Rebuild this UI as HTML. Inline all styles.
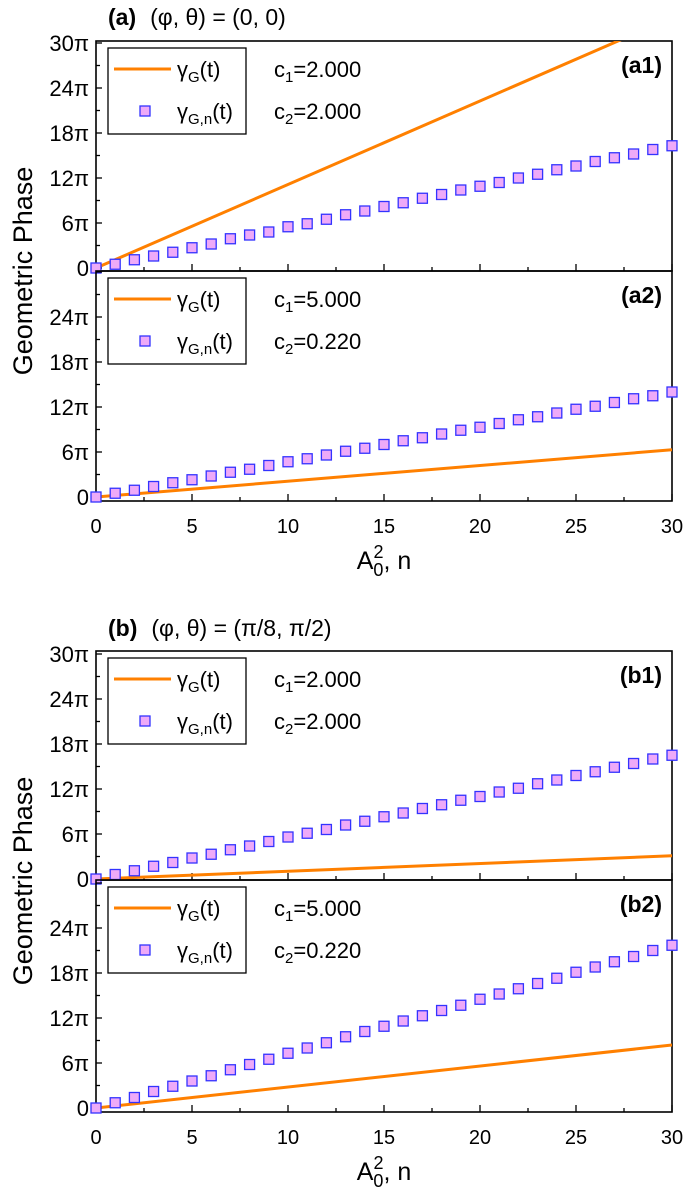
<!DOCTYPE html>
<html><head><meta charset="utf-8"><style>
html,body{margin:0;padding:0;background:#fff}
svg{display:block;font-family:"Liberation Sans",Arial,sans-serif}
</style></head><body>
<svg id="chart" width="685" height="1190" viewBox="0 0 685 1190" xmlns="http://www.w3.org/2000/svg"></svg>
<script>
// n values
const nValues = [0,1,2,3,4,5,6,7,8,9,10,11,12,13,14,15,16,17,18,19,20,21,22,23,24,25,26,27,28,29,30];
// gamma_G line endpoints (in units of pi) at n=0 and n=30
const a1Line = [0, 33.4];
const a2Line = [0, 6.3];
const b1Line = [0, 3.1];
const b2Line = [0, 8.4];
// gamma_G,n squares (units of pi)
const a1Squares = [0,0.5,1.1,1.6,2.1,2.7,3.2,3.9,4.4,4.8,5.5,5.9,6.5,7.1,7.6,8.2,8.7,9.3,9.8,10.4,10.9,11.4,12.0,12.5,13.1,13.6,14.2,14.7,15.2,15.8,16.3];
const a2Squares = [0,0.5,0.9,1.4,1.9,2.3,2.8,3.3,3.7,4.2,4.7,5.1,5.6,6.1,6.5,7.0,7.5,7.9,8.4,8.9,9.3,9.8,10.3,10.7,11.2,11.7,12.1,12.6,13.1,13.5,14.0];
const b1Squares = [0,0.6,1.1,1.7,2.2,2.8,3.3,3.9,4.4,5.0,5.6,6.1,6.6,7.2,7.7,8.3,8.8,9.4,9.9,10.5,11.0,11.6,12.1,12.7,13.2,13.8,14.3,14.9,15.4,16.0,16.5];
const b2Squares = [0,0.7,1.4,2.2,2.9,3.6,4.3,5.1,5.8,6.5,7.3,8.0,8.7,9.5,10.2,10.9,11.6,12.3,13.0,13.7,14.5,15.2,15.9,16.6,17.3,18.1,18.8,19.5,20.2,21.0,21.7];
const xTicks = [0,5,10,15,20,25,30];
const yTickLabels = ["0","6π","12π","18π","24π","30π"];
const yTickValues = [0,6,12,18,24,30];

const svg = document.getElementById('chart');
const NS = 'http://www.w3.org/2000/svg';
function mk(tag, attrs, parent){const e=document.createElementNS(NS,tag);for(const k in attrs)e.setAttribute(k,attrs[k]);(parent||svg).appendChild(e);return e;}
const X0=96, X1=672;
const xs = v => X0 + (X1-X0)*v/30;

function panel(top, bottom, zeroY, name, label, line, sq, c1, c2, showTop){
  const g = mk('g',{});
  
  
  const ys = v => zeroY - v*7.5;
  const fr = mk('rect',{x:X0,y:top,width:X1-X0,height:bottom-top,fill:'none',stroke:'#000','stroke-width':1.6},g);
  
  
  for(let v=0; v<=30; v+=2.5){
    const major = v%5===0;
    mk('line',{x1:xs(v),x2:xs(v),y1:bottom,y2:bottom-(major?7:4),stroke:'#000','stroke-width':1.3},g);
  }
  for(let v=0; v<=30; v+=3){
    if(ys(v)<top) continue;
    const major = v%6===0;
    mk('line',{x1:X0,x2:X0+(major?6:4),y1:ys(v),y2:ys(v),stroke:'#000','stroke-width':1.3},g);
  }
  yTickValues.forEach((v,i)=>{
    if(!showTop && v===30) return;
    const t = mk('text',{x:89,y:ys(v)+8,'text-anchor':'end','font-size':22,fill:'#000'},g);
    t.textContent = yTickLabels[i];
    
    
  });
  const clip = mk('clipPath',{id:'clip-'+name},g);
  mk('rect',{x:X0,y:top,width:X1-X0,height:bottom-top},clip);
  const ln = mk('line',{x1:xs(0),y1:ys(line[0]),x2:xs(30),y2:ys(line[1]),stroke:'#ff8000','stroke-width':3},g);
  
  
  ln.setAttribute('clip-path','url(#clip-'+name+')');
  nValues.forEach((n,i)=>{
    const r = mk('rect',{x:xs(n)-5,y:ys(sq[i])-5,width:10,height:10,fill:'#eeaaf8',stroke:'#3333ff','stroke-width':1.3},g);
    
    
  });
  const lg = mk('g',{},g);
  
  
  const L = top+7;
  mk('rect',{x:108,y:L,width:138,height:86,fill:'#fff',stroke:'#000','stroke-width':1.3},lg);
  mk('line',{x1:114,x2:171,y1:L+21,y2:L+21,stroke:'#ff8000','stroke-width':3},lg);
  const t1 = mk('text',{x:177,y:L+29,'font-size':22},lg);
  t1.innerHTML = 'γ<tspan font-size="15" dy="5">G</tspan><tspan dy="-5">(t)</tspan>';
  mk('rect',{x:140,y:L+58,width:10,height:10,fill:'#eeaaf8',stroke:'#3333ff','stroke-width':1.3},lg);
  const t2 = mk('text',{x:177,y:L+71,'font-size':22},lg);
  t2.innerHTML = 'γ<tspan font-size="15" dy="5">G,n</tspan><tspan dy="-5">(t)</tspan>';
  const c1t = mk('text',{x:274,y:L+29,'font-size':22},g);
  c1t.innerHTML = 'c<tspan font-size="15" dy="5">1</tspan><tspan dy="-5">='+c1+'</tspan>';
  
  
  const c2t = mk('text',{x:274,y:L+71,'font-size':22},g);
  c2t.innerHTML = 'c<tspan font-size="15" dy="5">2</tspan><tspan dy="-5">='+c2+'</tspan>';
  
  
  const pl = mk('text',{x:662,y:top+32,'text-anchor':'end','font-size':23,'font-weight':'bold'},g);
  pl.textContent = label;
  
  
}

function xAxis(y, titleY){
  xTicks.forEach(v=>{
    const t = mk('text',{x:xs(v),y:y,'text-anchor':'middle','font-size':20});
    t.textContent = v;
    
    
  });
  const t = mk('text',{x:384,y:titleY,'text-anchor':'middle','font-size':25});
  t.innerHTML = 'A<tspan font-size="18" dy="7">0</tspan><tspan font-size="18" dx="-10" dy="-18">2</tspan><tspan dy="11">, n</tspan>';
  
  
}
function yTitle(cy){
  const t = mk('text',{x:0,y:0,'text-anchor':'middle','font-size':27,transform:'translate(32,'+cy+') rotate(-90)'});
  t.textContent = 'Geometric Phase';
  
  
}
function title(y, tag, rest){
  const t = mk('text',{x:108,y:y,'font-size':23});
  t.innerHTML = '<tspan font-weight="bold">'+tag+'</tspan><tspan dx="14">'+rest+'</tspan>';
  
  
}

title(25,'(a)','(φ, θ) = (0, 0)');
panel(41,271,268,'a1','(a1)',a1Line,a1Squares,'2.000','2.000',true);
panel(271,501,497,'a2','(a2)',a2Line,a2Squares,'5.000','0.220',false);
xAxis(533,569);
yTitle(271);

title(636,'(b)','(φ, θ) = (π/8, π/2)');
panel(651,880,879,'b1','(b1)',b1Line,b1Squares,'2.000','2.000',true);
panel(880,1112,1108,'b2','(b2)',b2Line,b2Squares,'5.000','0.220',false);
xAxis(1144,1180);
yTitle(881);
</script>
</body></html>
